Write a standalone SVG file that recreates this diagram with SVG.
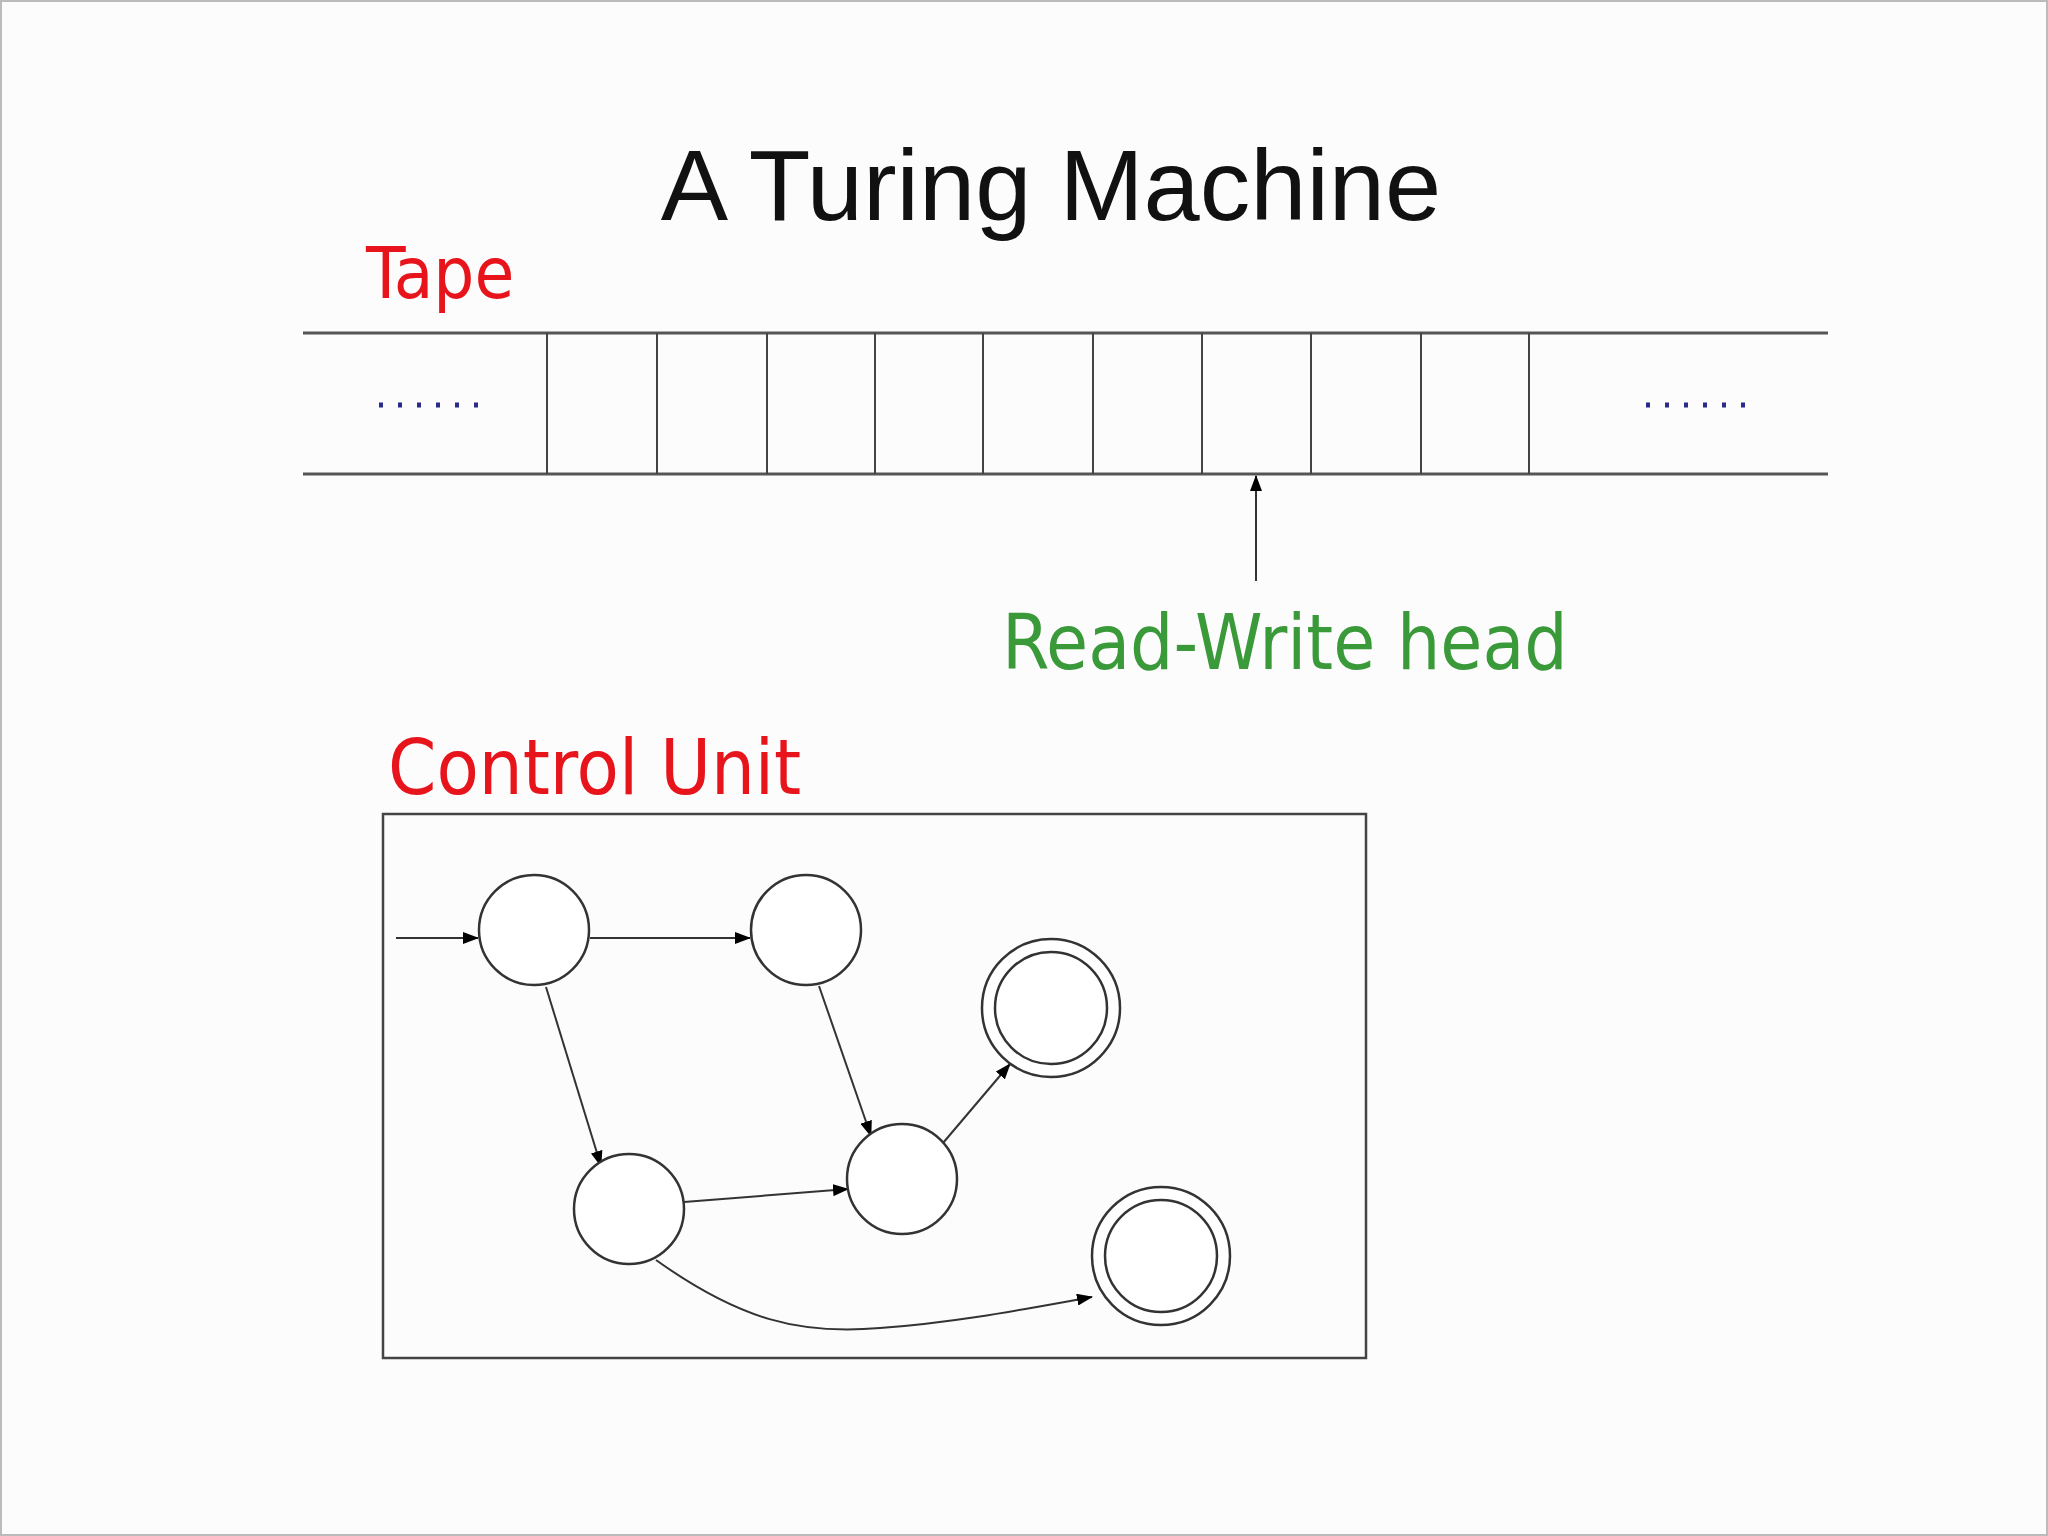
<svg xmlns="http://www.w3.org/2000/svg" width="2048" height="1536" viewBox="0 0 2048 1536">
<defs>
<style>
.l{stroke:#555;stroke-width:3;fill:none}
.v{stroke:#444;stroke-width:2;fill:none}
.s{stroke:#333;stroke-width:2.5;fill:#fff}
.e{stroke:#333;stroke-width:2;fill:none;marker-end:url(#ah)}
.t{font-family:"DejaVu Sans Condensed","DejaVu Sans",sans-serif}
</style>
<marker id="ah" markerWidth="16" markerHeight="12" refX="15" refY="6" orient="auto" markerUnits="userSpaceOnUse"><path d="M0,0 L16,6 L0,12 z" fill="#000"/></marker>
</defs>
<rect width="2048" height="1536" fill="#fdfcfd"/>
<rect x="1" y="1" width="2046" height="1534" fill="none" stroke="#bbb" stroke-width="2"/>
<text x="1051" y="220" text-anchor="middle" font-family="Liberation Sans, Arial, sans-serif" font-size="101" fill="#111">A Turing Machine</text>
<g id="tape">
<text class="t" x="366" y="298" font-size="72" fill="#e8141c">Tape</text>
<line class="l" x1="303" y1="333" x2="1828" y2="333"/>
<line class="l" x1="303" y1="474" x2="1828" y2="474"/>
<g class="v">
<line x1="547" y1="333" x2="547" y2="474"/><line x1="657" y1="333" x2="657" y2="474"/>
<line x1="767" y1="333" x2="767" y2="474"/><line x1="875" y1="333" x2="875" y2="474"/>
<line x1="983" y1="333" x2="983" y2="474"/><line x1="1093" y1="333" x2="1093" y2="474"/>
<line x1="1202" y1="333" x2="1202" y2="474"/><line x1="1311" y1="333" x2="1311" y2="474"/>
<line x1="1421" y1="333" x2="1421" y2="474"/><line x1="1529" y1="333" x2="1529" y2="474"/>
</g>
<line x1="379" y1="405" x2="478" y2="405" stroke="#2a2a8a" stroke-width="5" stroke-dasharray="4,15"/>
<line x1="1646" y1="405" x2="1747" y2="405" stroke="#2a2a8a" stroke-width="5" stroke-dasharray="4,15"/>
</g>
<g id="head">
<line x1="1256" y1="581" x2="1256" y2="476" stroke="#333" stroke-width="2" marker-end="url(#ah)"/>
<text class="t" x="1002" y="669" font-size="76" fill="#3a9a3a">Read-Write head</text>
</g>
<g id="control">
<text class="t" x="388" y="794" font-size="77" fill="#e8141c">Control Unit</text>
<rect x="383" y="814" width="983" height="544" fill="none" stroke="#444" stroke-width="2.5"/>
</g>
<g id="connectors">
<line class="e" x1="396" y1="938" x2="478" y2="938"/>
<line class="e" x1="590" y1="938" x2="750" y2="938"/>
<line class="e" x1="546" y1="987" x2="601" y2="1166"/>
<line class="e" x1="819" y1="986" x2="871" y2="1136"/>
<line class="e" x1="684" y1="1202" x2="848" y2="1189"/>
<line class="e" x1="943" y1="1143" x2="1010" y2="1064"/>
<path class="e" d="M656,1260 C740,1320 800,1335 880,1328 C960,1322 1030,1308 1092,1297"/>
</g>
<g id="qA"><circle class="s" cx="534" cy="930" r="55"/></g>
<g id="qB"><circle class="s" cx="806" cy="930" r="55"/></g>
<g id="qC"><circle class="s" cx="629" cy="1209" r="55"/></g>
<g id="qD"><circle class="s" cx="902" cy="1179" r="55"/></g>
<g id="qE"><circle class="s" cx="1051" cy="1008" r="69"/><circle class="s" cx="1051" cy="1008" r="56"/></g>
<g id="qF"><circle class="s" cx="1161" cy="1256" r="69"/><circle class="s" cx="1161" cy="1256" r="56"/></g>
</svg>
